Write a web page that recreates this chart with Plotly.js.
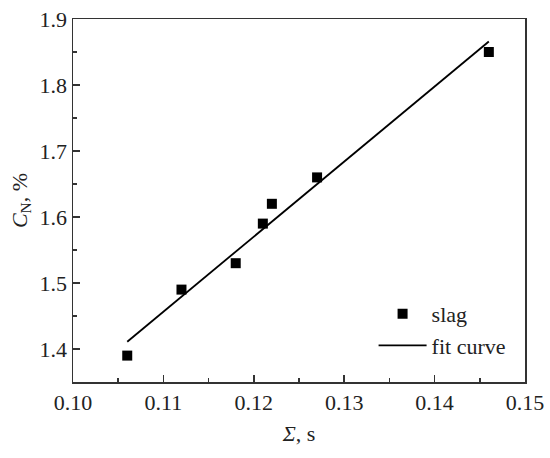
<!DOCTYPE html>
<html>
<head>
<meta charset="utf-8">
<script src="https://cdn.plot.ly/plotly-3.0.1.min.js"></script>
<style>
  html, body { margin: 0; padding: 0; background: #fff; }
  #plot { width: 550px; height: 458px; }
</style>
</head>
<body>
<div id="plot"></div>
<script>
/* global Plotly */
// measured slag points
const slagX = [0.106, 0.112, 0.118, 0.121, 0.122, 0.127, 0.146];
const slagY = [1.39, 1.49, 1.53, 1.59, 1.62, 1.66, 1.85];

// fitted straight line, end points
const fitX = [0.106, 0.146];
const fitY = [1.411, 1.866];

const FONT = '"Liberation Serif", "Times New Roman", Times, serif';

const slag = {
    x: slagX, y: slagY,
    mode: 'markers', type: 'scatter', name: 'slag',
    marker: {symbol: 'square', size: 10, color: '#000'}
};

const fit = {
    x: fitX, y: fitY,
    mode: 'lines', type: 'scatter', name: 'fit curve',
    line: {color: '#000', width: 1.8}
};

const axisBase = {
    showgrid: false, zeroline: false,
    showline: true, linecolor: '#333', linewidth: 1.5, mirror: true,
    ticks: 'inside', ticklen: 7, tickwidth: 1.5, tickcolor: '#333',
    tickfont: {family: FONT, size: 22, color: '#222'}
};

const layout = {
    width: 550, height: 458,
    margin: {l: 73, r: 25, t: 19, b: 76},
    paper_bgcolor: '#fff', plot_bgcolor: '#fff',
    font: {family: FONT, color: '#222'},
    showlegend: true,
    legend: {
        x: 0.665, y: 0.245, xanchor: 'left', yanchor: 'top',
        bgcolor: 'rgba(0,0,0,0)', itemwidth: 48,
        font: {family: FONT, size: 22, color: '#222'},
        tracegroupgap: 0
    },
    xaxis: Object.assign({}, axisBase, {
        range: [0.10, 0.15], dtick: 0.01, tick0: 0.10, tickformat: '.2f',
        minor: {ticks: 'inside', ticklen: 4, tickwidth: 1.5, tickcolor: '#333', dtick: 0.005},
        title: {text: '<i>Σ</i>, s', font: {family: FONT, size: 22, color: '#222'}, standoff: 11}
    }),
    yaxis: Object.assign({}, axisBase, {
        range: [1.35, 1.9], dtick: 0.1, tick0: 1.4, tickformat: '.1f',
        minor: {ticks: 'inside', ticklen: 4, tickwidth: 1.5, tickcolor: '#333', dtick: 0.05},
        title: {text: '<i>C</i><sub>N</sub>, %', font: {family: FONT, size: 22, color: '#222'}, standoff: 6}
    })
};

Plotly.newPlot('plot', [slag, fit], layout, {displayModeBar: false, staticPlot: true});
</script>
</body>
</html>
